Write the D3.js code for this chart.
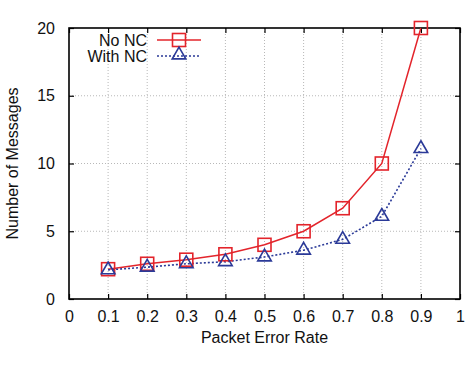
<!DOCTYPE html>
<html>
<head>
<meta charset="utf-8">
<script src="https://cdn.jsdelivr.net/npm/d3@7"></script>
<style>
  body { margin: 0; background: #fff; }
  text { font-family: "Liberation Sans", Arial, sans-serif; }
</style>
</head>
<body>
<svg id="chart" width="474" height="366"></svg>
<script>
const errorRates = [0.1, 0.2, 0.3, 0.4, 0.5, 0.6, 0.7, 0.8, 0.9];
const noNC = [2.2, 2.6, 2.9, 3.3, 4.0, 5.0, 6.7, 10.0, 20.0];
const withNC = [2.15, 2.35, 2.6, 2.75, 3.1, 3.6, 4.4, 6.1, 11.1];
const xTicks = [0, 0.1, 0.2, 0.3, 0.4, 0.5, 0.6, 0.7, 0.8, 0.9, 1];
const yTicks = [0, 5, 10, 15, 20];

const svg = d3.select('#chart');
const mLeft = 69, mRight = 460, mTop = 28, mBottom = 299;
const x = d3.scaleLinear().domain([0, 1]).range([mLeft, mRight]);
const y = d3.scaleLinear().domain([0, 20]).range([mBottom, mTop]);

const red = '#e3242b';
const blue = '#2b3a98';

// grid
const grid = svg.append('g');
grid.selectAll('.gx').data(xTicks.slice(1, -1)).enter().append('line')
  .attr('x1', d => x(d)).attr('x2', d => x(d))
  .attr('y1', mTop).attr('y2', mBottom)
  .attr('stroke', '#b8b8b8').attr('stroke-width', 1).attr('stroke-dasharray', '1,2');
grid.selectAll('.gy').data(yTicks.slice(1, -1)).enter().append('line')
  .attr('y1', d => y(d)).attr('y2', d => y(d))
  .attr('x1', mLeft).attr('x2', mRight)
  .attr('stroke', '#b8b8b8').attr('stroke-width', 1).attr('stroke-dasharray', '1,2');

// axes, inward ticks on all sides
const axB = svg.append('g').attr('transform', `translate(0,${mBottom})`)
  .call(d3.axisBottom(x).tickValues(xTicks).tickSizeInner(-5).tickSizeOuter(0).tickPadding(12).tickFormat(d3.format('')));
const axT = svg.append('g').attr('transform', `translate(0,${mTop})`)
  .call(d3.axisTop(x).tickValues(xTicks).tickSizeInner(-5).tickSizeOuter(0).tickFormat(''));
const axL = svg.append('g').attr('transform', `translate(${mLeft},0)`)
  .call(d3.axisLeft(y).tickValues(yTicks).tickSizeInner(-5).tickSizeOuter(0).tickPadding(14));
const axR = svg.append('g').attr('transform', `translate(${mRight},0)`)
  .call(d3.axisRight(y).tickValues(yTicks).tickSizeInner(-5).tickSizeOuter(0).tickFormat(''));

[axB, axT, axL, axR].forEach(a => {
  a.select('.domain').remove();
  a.selectAll('.tick line').attr('stroke', '#000').attr('stroke-width', 1.2);
  a.selectAll('text').attr('font-size', 16).attr('fill', '#111')
    .style('font-family', '"Liberation Sans", Arial, sans-serif');
});

svg.append('rect')
  .attr('x', mLeft).attr('y', mTop).attr('width', mRight - mLeft).attr('height', mBottom - mTop)
  .attr('fill', 'none').attr('stroke', '#000').attr('stroke-width', 1.6);

// series
const lineGen = vals => d3.line()
  .x((d, i) => x(errorRates[i]))
  .y(d => y(d))(vals);

svg.append('path').attr('d', lineGen(noNC))
  .attr('fill', 'none').attr('stroke', red).attr('stroke-width', 1.5);
svg.append('path').attr('d', lineGen(withNC))
  .attr('fill', 'none').attr('stroke', blue).attr('stroke-width', 1.6).attr('stroke-dasharray', '2,2');

const sq = 13;
const tri = d3.symbol().type(d3.symbolTriangle).size(80);

svg.selectAll('.sq').data(noNC).enter().append('rect')
  .attr('x', (d, i) => x(errorRates[i]) - sq / 2)
  .attr('y', d => y(d) - sq / 2)
  .attr('width', sq).attr('height', sq)
  .attr('fill', 'none').attr('stroke', red).attr('stroke-width', 1.6);

svg.selectAll('.tri').data(withNC).enter().append('path')
  .attr('d', tri)
  .attr('transform', (d, i) => `translate(${x(errorRates[i])},${y(d)})`)
  .attr('fill', 'none').attr('stroke', blue).attr('stroke-width', 1.6);

// legend
const legend = svg.append('g');
legend.append('text').attr('x', 147).attr('y', 46).attr('text-anchor', 'end')
  .attr('font-size', 16).attr('fill', '#111').text('No NC');
legend.append('line').attr('x1', 157).attr('x2', 201).attr('y1', 40).attr('y2', 40)
  .attr('stroke', red).attr('stroke-width', 1.5);
legend.append('rect').attr('x', 179 - sq / 2).attr('y', 40 - sq / 2).attr('width', sq).attr('height', sq)
  .attr('fill', 'none').attr('stroke', red).attr('stroke-width', 1.6);

legend.append('text').attr('x', 147).attr('y', 62).attr('text-anchor', 'end')
  .attr('font-size', 16).attr('fill', '#111').text('With NC');
legend.append('line').attr('x1', 157).attr('x2', 201).attr('y1', 56).attr('y2', 56)
  .attr('stroke', blue).attr('stroke-width', 1.6).attr('stroke-dasharray', '2,2');
legend.append('path').attr('d', tri).attr('transform', 'translate(179,55)')
  .attr('fill', 'none').attr('stroke', blue).attr('stroke-width', 1.6);

// axis titles
svg.append('text').attr('x', (mLeft + mRight) / 2).attr('y', 343).attr('text-anchor', 'middle')
  .attr('font-size', 16).attr('fill', '#111').text('Packet Error Rate');
svg.append('text').attr('transform', `translate(18,${(mTop + mBottom) / 2}) rotate(-90)`)
  .attr('text-anchor', 'middle').attr('font-size', 16).attr('fill', '#111').text('Number of Messages');
</script>
</body>
</html>
